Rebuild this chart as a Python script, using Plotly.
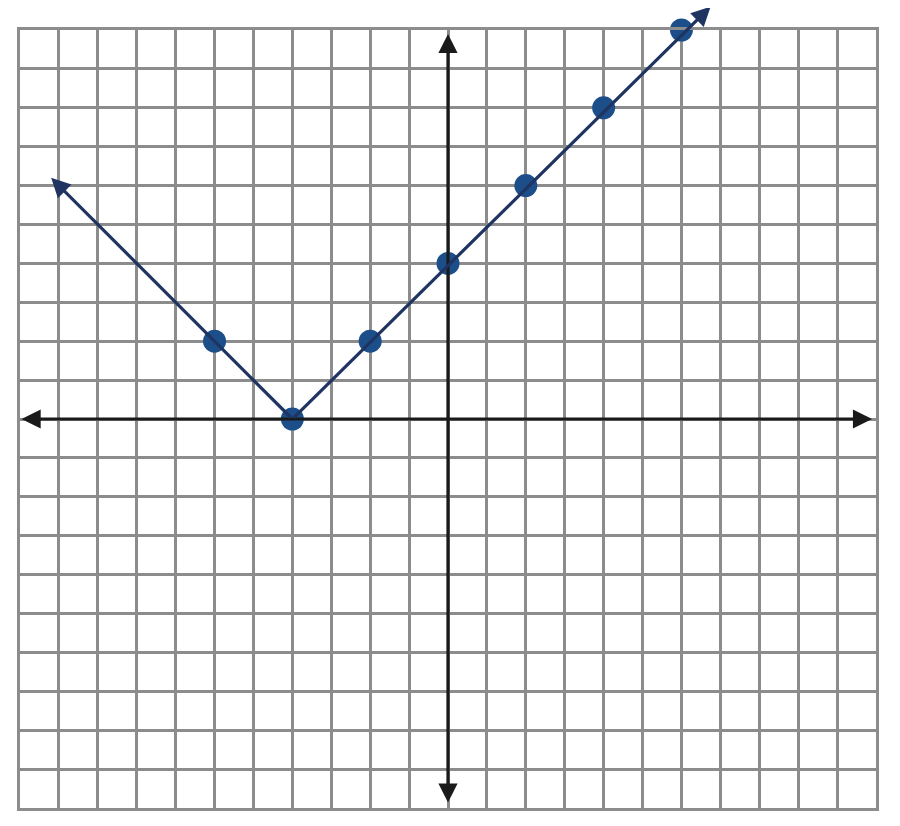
import plotly.graph_objects as go

# points on y = |x + 4|
point_x = [-6, -4, -2, 0, 2, 4, 6]
point_y = [2, 0, 2, 4, 6, 8, 10]

# where the drawn line ends (arrow tips), vertex in the middle
vertex = (-4, 0)
left_tip = (-10.2, 6.2)
right_tip = (6.75, 10.6)

x_range = [-11, 11]
y_range = [-10, 10]

line_color = "#1f3461"
marker_color = "#1c4f8a"
axis_color = "#1a1a1a"
grid_color = "#8c8c8c"

fig = go.Figure(go.Scatter(
    x=point_x,
    y=point_y,
    mode="markers",
    marker=dict(size=23, color=marker_color),
    cliponaxis=False,
    hoverinfo="skip",
))

annotations = []
# coordinate axes with arrows on both ends
annotations.append(dict(
    x=x_range[1] - 0.1, y=0, ax=x_range[0], ay=0,
    xref="x", yref="y", axref="x", ayref="y",
    showarrow=True, arrowside="end+start", arrowhead=2, arrowsize=1.2,
    arrowwidth=3.2, arrowcolor=axis_color, text="",
))
annotations.append(dict(
    x=0, y=y_range[1] - 0.1, ax=0, ay=y_range[0] + 0.1,
    xref="x", yref="y", axref="x", ayref="y",
    showarrow=True, arrowside="end+start", arrowhead=2, arrowsize=1.2,
    arrowwidth=3.2, arrowcolor=axis_color, text="",
))
# the two rays of the V
for tip in (left_tip, right_tip):
    annotations.append(dict(
        x=tip[0], y=tip[1], ax=vertex[0], ay=vertex[1],
        xref="x", yref="y", axref="x", ayref="y",
        showarrow=True, arrowhead=2, arrowsize=1.2,
        arrowwidth=3.2, arrowcolor=line_color, text="",
    ))

axis_style = dict(
    dtick=1,
    showgrid=True,
    gridcolor=grid_color,
    gridwidth=2.5,
    zeroline=False,
    showticklabels=False,
    ticks="",
    showline=True,
    linecolor=grid_color,
    linewidth=2.5,
    mirror=True,
    fixedrange=True,
)

fig.update_layout(
    width=892,
    height=818,
    margin=dict(l=12, r=24, t=22, b=18),
    paper_bgcolor="white",
    plot_bgcolor="white",
    showlegend=False,
    xaxis=dict(range=x_range, **axis_style),
    yaxis=dict(range=y_range, **axis_style),
    annotations=annotations,
)

fig.write_html("out.html")
